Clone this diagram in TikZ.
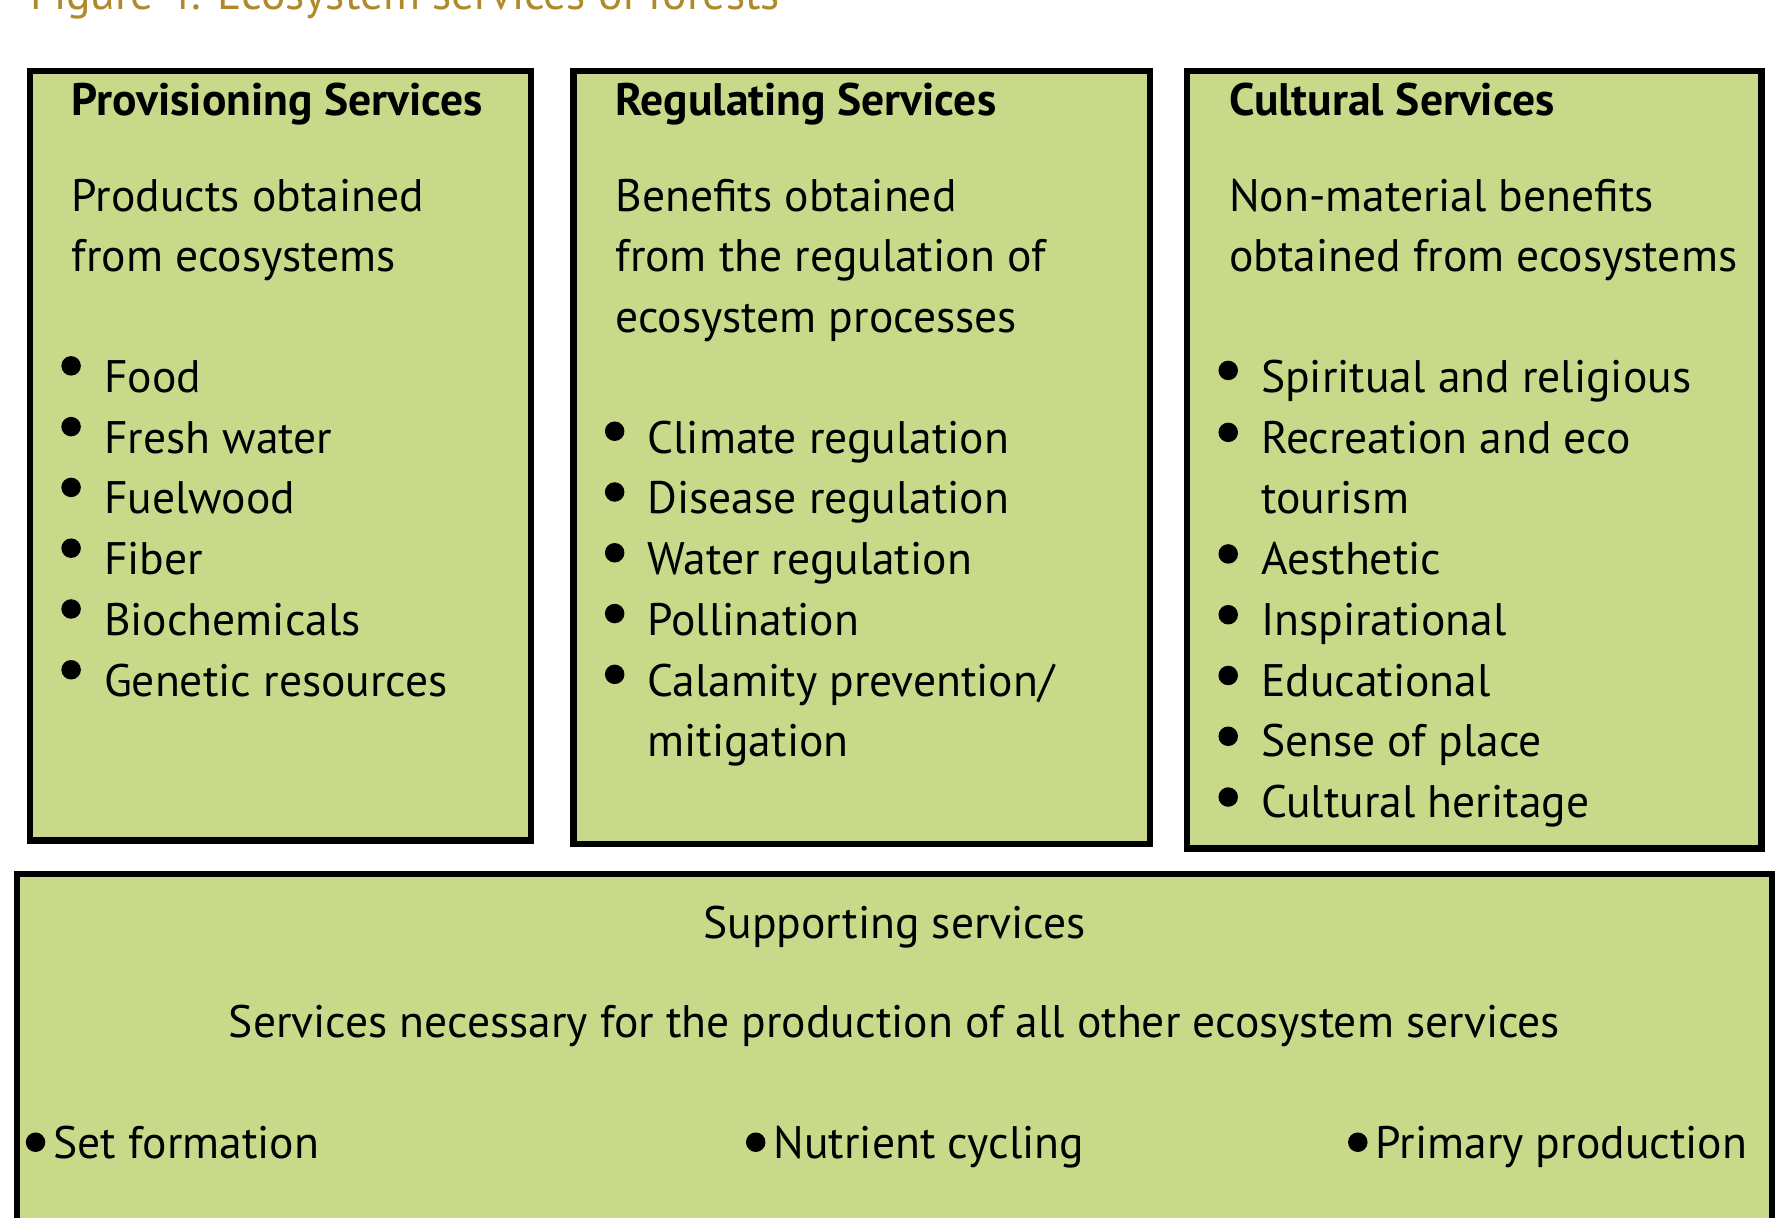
\documentclass[tikz,border=0pt]{standalone}
\usepackage{fontspec}
\setmainfont{PT Sans}
\begin{document}
\begin{tikzpicture}[x=0.01cm,y=-0.01cm,
  box/.style={draw=black,line width=1.6pt,fill=boxgreen},
  txt/.style={anchor=base west,inner sep=0pt,font=\fontsize{11.3}{14}\selectfont},
  hd/.style={txt,font=\fontsize{11.3}{14}\selectfont\bfseries},
  dot/.style={fill=black,circle,inner sep=0pt,minimum size=0.17cm}]
\definecolor{boxgreen}{HTML}{C8D98A}
\definecolor{gold}{HTML}{B08A2A}
\useasboundingbox (0,0) rectangle (1560,1062);
\fill[white] (0,0) rectangle (1560,1062);
\node[txt,text=gold] (title) at (26,8) {Figure 4. Ecosystem services of forests};
\draw[box] (26,62) rectangle (463,733);
\draw[box] (500,62) rectangle (1003,736);
\draw[box] (1035,62) rectangle (1536,740);
\draw[box] (15,762) rectangle (1545,1075);
% column 1
\node[hd] (h1) at (62,101) {Provisioning Services};
\node[txt] (d1a) at (62,184) {Products obtained};
\node[txt] (d1b) at (62,237) {from ecosystems};
\foreach \t [count=\i] in {Food,Fresh water,Fuelwood,Fiber,Biochemicals,Genetic resources}{
  \node[dot] (b1\i) at (62,{266+53*\i}) {};
  \node[txt] (i1\i) at (90,{289+53*\i}) {\t};}
% column 2
\node[hd] (h2) at (536,101) {Regulating Services};
\node[txt] (d2a) at (536,184) {Benefits obtained};
\node[txt] (d2b) at (536,237) {from the regulation of};
\node[txt] (d2c) at (536,290) {ecosystem processes};
\foreach \t [count=\i] in {Climate regulation,Disease regulation,Water regulation,Pollination,Calamity prevention/}{
  \node[dot] (b2\i) at (536,{323+53*\i}) {};
  \node[txt] (i2\i) at (564,{342+53*\i}) {\t};}
\node[txt] (i26) at (564,660) {mitigation};
% column 3
\node[hd] (h3) at (1071,101) {Cultural Services};
\node[txt] (d3a) at (1071,184) {Non-material benefits};
\node[txt] (d3b) at (1071,237) {obtained from ecosystems};
\node[dot] (b31) at (1071,323) {};
\node[txt] (i31) at (1099,342) {Spiritual and religious};
\node[dot] (b32) at (1071,377) {};
\node[txt] (i32) at (1099,395) {Recreation and eco};
\node[txt] (i32b) at (1099,448) {tourism};
\foreach \t [count=\i] in {Aesthetic,Inspirational,Educational,Sense of place,Cultural heritage}{
  \node[dot] (b3\i x) at (1071,{430+53*\i}) {};
  \node[txt] (i3\i x) at (1099,{448+53*\i}) {\t};}
% bottom
\node[txt,anchor=base] (h4) at (780,818) {Supporting services};
\node[txt,anchor=base] (d4) at (780,905) {Services necessary for the production of all other ecosystem services};
\node[dot] (b41) at (31,996) {};
\node[txt] (i41) at (46,1010) {Set formation};
\node[dot] (b42) at (659,996) {};
\node[txt] (i42) at (674,1010) {Nutrient cycling};
\node[dot] (b43) at (1184,996) {};
\node[txt] (i43) at (1199,1010) {Primary production};
\end{tikzpicture}
\end{document}
